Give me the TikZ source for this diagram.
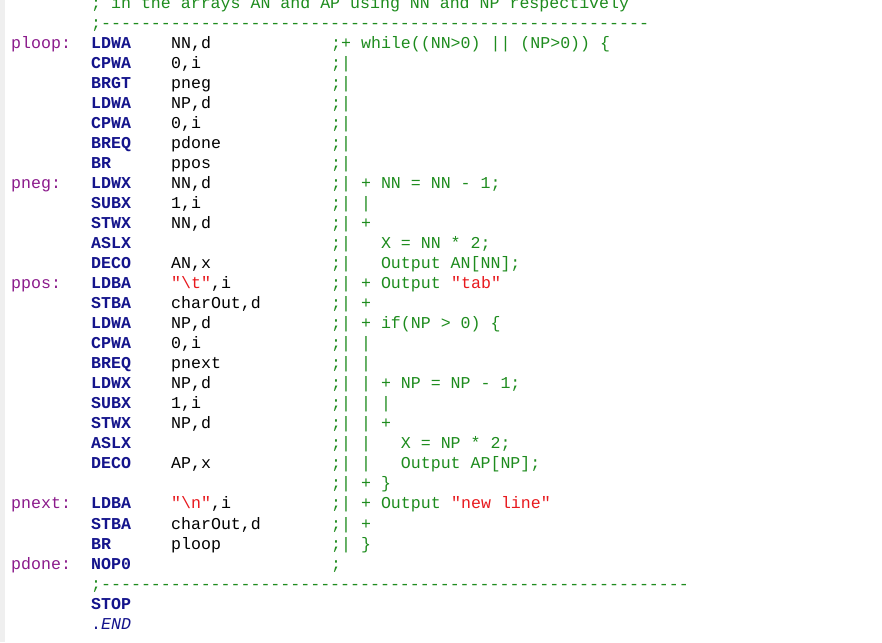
\documentclass[tikz,border=0pt]{standalone}
\usepackage{fontspec}
\setmonofont{Liberation Mono}
\definecolor{cmtc}{HTML}{1E8C1E}
\definecolor{lblc}{HTML}{8B1A8B}
\definecolor{opcc}{HTML}{14148C}
\definecolor{strc}{HTML}{E8191E}
\definecolor{stripc}{HTML}{EFEFEF}
\tikzset{tokbase/.style={inner sep=0pt,anchor=base west,font=\ttfamily\fontsize{16.6}{20}\selectfont},
 lbtok/.style={tokbase,text=lblc},
 optok/.style={tokbase,text=opcc,font=\ttfamily\bfseries\fontsize{16.6}{20}\selectfont},
 artok/.style={tokbase,text=black},
 cmtok/.style={tokbase,text=cmtc},
 sttok/.style={tokbase,text=strc},
 endtok/.style={tokbase,text=opcc}}
\newcommand\T[4]{\node[#3] (n-#1-#2) at ({11+10*#2},{642-9-20*#1}) {#4};}
\newcommand\bs{\char`\\}
\begin{document}
\begin{tikzpicture}[x=1pt,y=1pt]
\useasboundingbox (0,0) rectangle (882,642);
\fill[white] (0,0) rectangle (882,642);
\fill[stripc] (0,0) rectangle (5,642);
\T{0}{8}{cmtok}{; in the arrays AN and AP using NN and NP respectively}
\T{1}{8}{cmtok}{;-------------------------------------------------------}
\T{2}{0}{lbtok}{ploop:}\T{2}{8}{optok}{LDWA}\T{2}{16}{artok}{NN,d}\T{2}{32}{cmtok}{;+ while((NN>0) || (NP>0)) \{}
\T{3}{8}{optok}{CPWA}\T{3}{16}{artok}{0,i}\T{3}{32}{cmtok}{;|}
\T{4}{8}{optok}{BRGT}\T{4}{16}{artok}{pneg}\T{4}{32}{cmtok}{;|}
\T{5}{8}{optok}{LDWA}\T{5}{16}{artok}{NP,d}\T{5}{32}{cmtok}{;|}
\T{6}{8}{optok}{CPWA}\T{6}{16}{artok}{0,i}\T{6}{32}{cmtok}{;|}
\T{7}{8}{optok}{BREQ}\T{7}{16}{artok}{pdone}\T{7}{32}{cmtok}{;|}
\T{8}{8}{optok}{BR}\T{8}{16}{artok}{ppos}\T{8}{32}{cmtok}{;|}
\T{9}{0}{lbtok}{pneg:}\T{9}{8}{optok}{LDWX}\T{9}{16}{artok}{NN,d}\T{9}{32}{cmtok}{;| + NN = NN - 1;}
\T{10}{8}{optok}{SUBX}\T{10}{16}{artok}{1,i}\T{10}{32}{cmtok}{;| |}
\T{11}{8}{optok}{STWX}\T{11}{16}{artok}{NN,d}\T{11}{32}{cmtok}{;| +}
\T{12}{8}{optok}{ASLX}\T{12}{32}{cmtok}{;|\ \ \ X = NN * 2;}
\T{13}{8}{optok}{DECO}\T{13}{16}{artok}{AN,x}\T{13}{32}{cmtok}{;|\ \ \ Output AN[NN];}
\T{14}{0}{lbtok}{ppos:}\T{14}{8}{optok}{LDBA}\T{14}{16}{sttok}{"\bs t"}\T{14}{20}{artok}{,i}\T{14}{32}{cmtok}{;| + Output}\T{14}{44}{sttok}{"tab"}
\T{15}{8}{optok}{STBA}\T{15}{16}{artok}{charOut,d}\T{15}{32}{cmtok}{;| +}
\T{16}{8}{optok}{LDWA}\T{16}{16}{artok}{NP,d}\T{16}{32}{cmtok}{;| + if(NP > 0) \{}
\T{17}{8}{optok}{CPWA}\T{17}{16}{artok}{0,i}\T{17}{32}{cmtok}{;| |}
\T{18}{8}{optok}{BREQ}\T{18}{16}{artok}{pnext}\T{18}{32}{cmtok}{;| |}
\T{19}{8}{optok}{LDWX}\T{19}{16}{artok}{NP,d}\T{19}{32}{cmtok}{;| | + NP = NP - 1;}
\T{20}{8}{optok}{SUBX}\T{20}{16}{artok}{1,i}\T{20}{32}{cmtok}{;| | |}
\T{21}{8}{optok}{STWX}\T{21}{16}{artok}{NP,d}\T{21}{32}{cmtok}{;| | +}
\T{22}{8}{optok}{ASLX}\T{22}{32}{cmtok}{;| |\ \ \ X = NP * 2;}
\T{23}{8}{optok}{DECO}\T{23}{16}{artok}{AP,x}\T{23}{32}{cmtok}{;| |\ \ \ Output AP[NP];}
\T{24}{32}{cmtok}{;| + \}}
\T{25}{0}{lbtok}{pnext:}\T{25}{8}{optok}{LDBA}\T{25}{16}{sttok}{"\bs n"}\T{25}{20}{artok}{,i}\T{25}{32}{cmtok}{;| + Output}\T{25}{44}{sttok}{"new line"}
\T{26}{8}{optok}{STBA}\T{26}{16}{artok}{charOut,d}\T{26}{32}{cmtok}{;| +}
\T{27}{8}{optok}{BR}\T{27}{16}{artok}{ploop}\T{27}{32}{cmtok}{;| \}}
\T{28}{0}{lbtok}{pdone:}\T{28}{8}{optok}{NOP0}\T{28}{32}{cmtok}{;}
\T{29}{8}{cmtok}{;-----------------------------------------------------------}
\T{30}{8}{optok}{STOP}
\T{31}{8}{endtok}{.\textit{END}}
\end{tikzpicture}
\end{document}
